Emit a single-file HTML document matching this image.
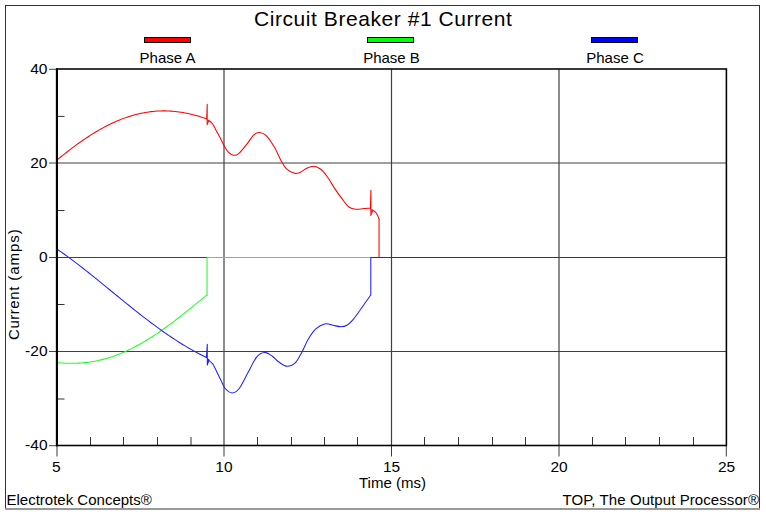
<!DOCTYPE html>
<html><head><meta charset="utf-8"><style>
html,body{margin:0;padding:0;background:#fff;}
body{width:766px;height:516px;position:relative;overflow:hidden;font-family:"Liberation Sans",sans-serif;color:#000;}
.frame{position:absolute;left:5px;top:5px;width:753px;height:503px;border-left:1px solid #333;border-top:1px solid #333;border-right:1px solid #333;}
.fbot{position:absolute;left:5px;top:508px;width:755px;height:2px;background:#999;}
svg{position:absolute;left:0;top:0;}
.t{position:absolute;white-space:nowrap;line-height:1;}
.title{left:254px;top:8px;font-size:21px;letter-spacing:0.56px;}
.lg{position:absolute;width:45px;height:4px;border:1px solid #000;top:37px;}
.ln{position:absolute;top:49px;font-size:15px;width:100px;text-align:center;}
.yl{position:absolute;left:0;width:47.5px;text-align:right;font-size:15.5px;line-height:17px;}
.xl{position:absolute;top:458px;width:40px;text-align:center;font-size:15.5px;line-height:17px;}
</style></head><body>
<div class="frame"></div><div class="fbot"></div>
<svg width="766" height="516" viewBox="0 0 766 516">
<g stroke="#404040" stroke-width="1.2" fill="none"><line x1="224.0" y1="69.0" x2="224.0" y2="445.5"/><line x1="391.5" y1="69.0" x2="391.5" y2="445.5"/><line x1="559.0" y1="69.0" x2="559.0" y2="445.5"/><line x1="56.9" y1="163.0" x2="726.4" y2="163.0"/><line x1="56.9" y1="257.5" x2="726.4" y2="257.5"/><line x1="56.9" y1="351.5" x2="726.4" y2="351.5"/></g>
<g stroke="#333" stroke-width="1" fill="none"><line x1="57.0" y1="445.5" x2="57.0" y2="456.5" stroke="#3a3a3a"/><line x1="90.5" y1="437" x2="90.5" y2="445.5"/><line x1="123.5" y1="437" x2="123.5" y2="445.5"/><line x1="157.5" y1="437" x2="157.5" y2="445.5"/><line x1="191.0" y1="437" x2="191.0" y2="445.5"/><line x1="224.0" y1="445.5" x2="224.0" y2="456.5" stroke="#3a3a3a"/><line x1="257.5" y1="437" x2="257.5" y2="445.5"/><line x1="291.5" y1="437" x2="291.5" y2="445.5"/><line x1="324.5" y1="437" x2="324.5" y2="445.5"/><line x1="357.5" y1="437" x2="357.5" y2="445.5"/><line x1="391.5" y1="445.5" x2="391.5" y2="456.5" stroke="#3a3a3a"/><line x1="424.5" y1="437" x2="424.5" y2="445.5"/><line x1="458.5" y1="437" x2="458.5" y2="445.5"/><line x1="492.5" y1="437" x2="492.5" y2="445.5"/><line x1="525.5" y1="437" x2="525.5" y2="445.5"/><line x1="559.0" y1="445.5" x2="559.0" y2="456.5" stroke="#3a3a3a"/><line x1="592.5" y1="437" x2="592.5" y2="445.5"/><line x1="625.5" y1="437" x2="625.5" y2="445.5"/><line x1="659.5" y1="437" x2="659.5" y2="445.5"/><line x1="693.5" y1="437" x2="693.5" y2="445.5"/><line x1="726.3" y1="445.5" x2="726.3" y2="456.5" stroke="#3a3a3a"/><line x1="49" y1="445.7" x2="56.9" y2="445.7" stroke="#444"/><line x1="56.9" y1="399.0" x2="64.5" y2="399.0"/><line x1="49" y1="351.5" x2="56.9" y2="351.5" stroke="#444"/><line x1="56.9" y1="304.5" x2="64.5" y2="304.5"/><line x1="49" y1="257.5" x2="56.9" y2="257.5" stroke="#444"/><line x1="56.9" y1="210.5" x2="64.5" y2="210.5"/><line x1="49" y1="163.0" x2="56.9" y2="163.0" stroke="#444"/><line x1="56.9" y1="116.4" x2="64.5" y2="116.4"/><line x1="49" y1="69.3" x2="56.9" y2="69.3" stroke="#444"/></g>
<path d="M57.00,159.97 L59.00,158.34 L61.00,156.72 L63.00,155.12 L65.00,153.54 L67.00,151.97 L69.00,150.43 L71.00,148.90 L73.00,147.40 L75.00,145.91 L77.00,144.45 L79.00,143.02 L81.00,141.60 L83.00,140.22 L85.00,138.85 L87.00,137.52 L89.00,136.21 L91.00,134.92 L93.00,133.67 L95.00,132.45 L97.00,131.25 L99.00,130.08 L101.00,128.95 L103.00,127.84 L105.00,126.77 L107.00,125.73 L109.00,124.72 L111.00,123.75 L113.00,122.80 L115.00,121.90 L117.00,121.02 L119.00,120.18 L121.00,119.38 L123.00,118.61 L125.00,117.87 L127.00,117.17 L129.00,116.51 L131.00,115.88 L133.00,115.29 L135.00,114.74 L137.00,114.22 L139.00,113.74 L141.00,113.30 L143.00,112.89 L145.00,112.52 L147.00,112.19 L149.00,111.90 L151.00,111.64 L153.00,111.42 L155.00,111.24 L157.00,111.10 L159.00,110.99 L161.00,110.92 L163.00,110.89 L165.00,110.89 L167.00,110.93 L169.00,111.01 L171.00,111.12 L173.00,111.27 L175.00,111.45 L177.00,111.68 L179.00,111.93 L181.00,112.22 L183.00,112.55 L185.00,112.91 L187.00,113.31 L189.00,113.74 L191.00,114.20 L193.00,114.69 L195.00,115.22 L197.00,115.78 L199.00,116.37 L201.00,116.99 L203.00,117.65 L205.00,118.33 L206.70,118.93 L207.20,104.30 L207.20,124.70 L208.40,120.20 C209.08,120.78 211.17,121.92 212.50,123.70 C213.83,125.48 215.15,128.58 216.40,130.90 C217.65,133.22 218.72,135.12 220.00,137.60 C221.28,140.08 222.75,143.42 224.10,145.80 C225.45,148.18 226.52,150.32 228.10,151.90 C229.68,153.48 231.78,155.07 233.60,155.30 C235.42,155.53 236.75,155.22 239.00,153.30 C241.25,151.38 244.62,146.87 247.10,143.80 C249.58,140.73 251.85,136.78 253.90,134.90 C255.95,133.02 257.35,132.38 259.40,132.50 C261.45,132.62 263.72,133.17 266.20,135.60 C268.68,138.03 271.82,142.92 274.30,147.10 C276.78,151.28 279.07,157.07 281.10,160.70 C283.13,164.33 284.23,166.80 286.50,168.90 C288.77,171.00 292.45,172.72 294.70,173.30 C296.95,173.88 297.98,173.23 300.00,172.40 C302.02,171.57 304.53,169.32 306.80,168.30 C309.07,167.28 311.33,166.18 313.60,166.30 C315.87,166.42 318.15,167.30 320.40,169.00 C322.65,170.70 324.62,173.10 327.10,176.50 C329.58,179.90 332.80,185.67 335.30,189.40 C337.80,193.13 339.83,195.97 342.10,198.90 C344.37,201.83 346.63,205.27 348.90,207.00 C351.17,208.73 353.22,209.03 355.70,209.30 C358.18,209.57 361.35,208.82 363.80,208.60 C366.25,208.38 369.30,208.10 370.40,208.00 L370.90,190.20 L370.90,215.50 L372.20,209.80 C372.75,210.20 374.60,211.25 375.50,212.20 C376.40,213.15 376.97,214.23 377.60,215.50 C378.23,216.77 379.02,219.08 379.30,219.80 L379.05,219.80 L379.05,257.50 L726.40,257.50" stroke="#ff0000" stroke-width="1.05" fill="none" stroke-linejoin="round"/>
<path d="M57.00,362.57 L59.00,362.76 L61.00,362.93 L63.00,363.06 L65.00,363.17 L67.00,363.25 L69.00,363.30 L71.00,363.33 L73.00,363.32 L75.00,363.28 L77.00,363.22 L79.00,363.12 L81.00,362.99 L83.00,362.83 L85.00,362.63 L87.00,362.41 L89.00,362.15 L91.00,361.85 L93.00,361.53 L95.00,361.17 L97.00,360.77 L99.00,360.34 L101.00,359.88 L103.00,359.38 L105.00,358.85 L107.00,358.29 L109.00,357.69 L111.00,357.05 L113.00,356.39 L115.00,355.68 L117.00,354.95 L119.00,354.18 L121.00,353.38 L123.00,352.54 L125.00,351.67 L127.00,350.77 L129.00,349.83 L131.00,348.87 L133.00,347.87 L135.00,346.84 L137.00,345.78 L139.00,344.68 L141.00,343.56 L143.00,342.41 L145.00,341.23 L147.00,340.02 L149.00,338.79 L151.00,337.53 L153.00,336.24 L155.00,334.92 L157.00,333.59 L159.00,332.22 L161.00,330.84 L163.00,329.43 L165.00,328.00 L167.00,326.55 L169.00,325.08 L171.00,323.59 L173.00,322.09 L175.00,320.57 L177.00,319.03 L179.00,317.48 L181.00,315.91 L183.00,314.33 L185.00,312.75 L187.00,311.15 L189.00,309.54 L191.00,307.93 L193.00,306.31 L195.00,304.69 L197.00,303.06 L199.00,301.43 L201.00,299.80 L203.00,298.18 L205.00,296.55 L207.00,294.93 L207.05,294.89 L207.05,295.60 L207.05,257.50 L726.40,257.50" stroke="#20ff20" stroke-width="1.05" fill="none" stroke-linejoin="round"/>
<polygon points="370.5,208.8 371.3,215.2 373.4,210.4" fill="#ff2020"/><polygon points="206.8,119.2 207.6,124.3 209.3,120.4" fill="#ff2020"/><polygon points="206.9,357.6 207.7,364.2 209.6,359.8" fill="#2020ff"/>
<path d="M57.00,249.13 L59.00,250.49 L61.00,251.88 L63.00,253.28 L65.00,254.71 L67.00,256.15 L69.00,257.61 L71.00,259.08 L73.00,260.58 L75.00,262.09 L77.00,263.61 L79.00,265.14 L81.00,266.69 L83.00,268.25 L85.00,269.82 L87.00,271.40 L89.00,272.99 L91.00,274.59 L93.00,276.20 L95.00,277.81 L97.00,279.43 L99.00,281.05 L101.00,282.68 L103.00,284.31 L105.00,285.95 L107.00,287.58 L109.00,289.22 L111.00,290.86 L113.00,292.50 L115.00,294.14 L117.00,295.78 L119.00,297.41 L121.00,299.04 L123.00,300.67 L125.00,302.29 L127.00,303.91 L129.00,305.52 L131.00,307.13 L133.00,308.73 L135.00,310.32 L137.00,311.91 L139.00,313.48 L141.00,315.05 L143.00,316.60 L145.00,318.15 L147.00,319.68 L149.00,321.20 L151.00,322.71 L153.00,324.20 L155.00,325.69 L157.00,327.15 L159.00,328.61 L161.00,330.04 L163.00,331.46 L165.00,332.87 L167.00,334.26 L169.00,335.63 L171.00,336.98 L173.00,338.31 L175.00,339.63 L177.00,340.93 L179.00,342.20 L181.00,343.46 L183.00,344.69 L185.00,345.90 L187.00,347.10 L189.00,348.26 L191.00,349.41 L193.00,350.53 L195.00,351.63 L197.00,352.71 L199.00,353.76 L201.00,354.79 L203.00,355.79 L205.00,356.77 L206.40,357.43 L207.30,344.20 L207.30,365.00 L208.60,360.20 C209.25,360.78 211.42,362.35 212.50,363.70 C213.58,365.05 214.22,366.58 215.10,368.30 C215.98,370.02 216.73,371.80 217.80,374.00 C218.87,376.20 220.27,379.08 221.50,381.50 C222.73,383.92 223.42,386.60 225.20,388.50 C226.98,390.40 229.87,392.90 232.20,392.90 C234.53,392.90 236.58,391.85 239.20,388.50 C241.82,385.15 245.00,378.03 247.90,372.80 C250.80,367.57 253.83,360.50 256.60,357.10 C259.37,353.70 261.88,352.55 264.50,352.40 C267.12,352.25 269.83,354.55 272.30,356.20 C274.77,357.85 276.82,360.62 279.30,362.30 C281.78,363.98 284.58,366.15 287.20,366.30 C289.82,366.45 292.53,365.60 295.00,363.20 C297.47,360.80 299.87,355.77 302.00,351.90 C304.13,348.03 305.55,343.78 307.80,340.00 C310.05,336.22 312.60,331.90 315.50,329.20 C318.40,326.50 322.28,324.45 325.20,323.80 C328.12,323.15 330.42,324.82 333.00,325.30 C335.58,325.78 338.38,326.72 340.70,326.70 C343.02,326.68 344.80,326.43 346.90,325.20 C349.00,323.97 351.18,321.70 353.30,319.30 C355.42,316.90 357.48,313.73 359.60,310.80 C361.72,307.87 364.17,304.30 366.00,301.70 C367.83,299.10 369.83,296.28 370.60,295.20 L370.80,295.30 L370.80,257.50 L726.40,257.50" stroke="#2020ff" stroke-width="1.05" fill="none" stroke-linejoin="round"/>
<rect x="56.9" y="69.0" width="669.50" height="376.50" fill="none" stroke="#000" stroke-width="1.55"/>
<line x1="56.9" y1="68.2" x2="56.9" y2="446.3" stroke="#000" stroke-width="2.1"/>
</svg>
<div class="t title">Circuit Breaker #1 Current</div>
<div class="lg" style="left:144px;background:#f00"></div>
<div class="lg" style="left:367px;background:#0f0"></div>
<div class="lg" style="left:591px;background:#00f"></div>
<div class="ln" style="left:117.5px">Phase A</div>
<div class="ln" style="left:341.5px">Phase B</div>
<div class="ln" style="left:565px">Phase C</div>
<div class="yl" style="top:436.4px">-40</div><div class="yl" style="top:342.3px">-20</div><div class="yl" style="top:248.2px">0</div><div class="yl" style="top:154.1px">20</div><div class="yl" style="top:60.0px">40</div>
<div class="xl" style="left:36.4px">5</div><div class="xl" style="left:203.9px">10</div><div class="xl" style="left:371.5px">15</div><div class="xl" style="left:539.0px">20</div><div class="xl" style="left:706.6px">25</div>
<div class="t" style="left:359px;top:475px;font-size:15px;">Time (ms)</div>
<div class="t" style="left:6.5px;top:492px;font-size:15px;">Electrotek Concepts&reg;</div>
<div class="t" style="left:562.5px;top:492px;font-size:15px;letter-spacing:0.08px;">TOP, The Output Processor&reg;</div>
<div class="t" style="left:6px;top:340px;font-size:15px;letter-spacing:0.55px;word-spacing:0.7px;transform-origin:0 0;transform:rotate(-90deg);">Current <span style="letter-spacing:0.97px">(amps)</span></div>
</body></html>
